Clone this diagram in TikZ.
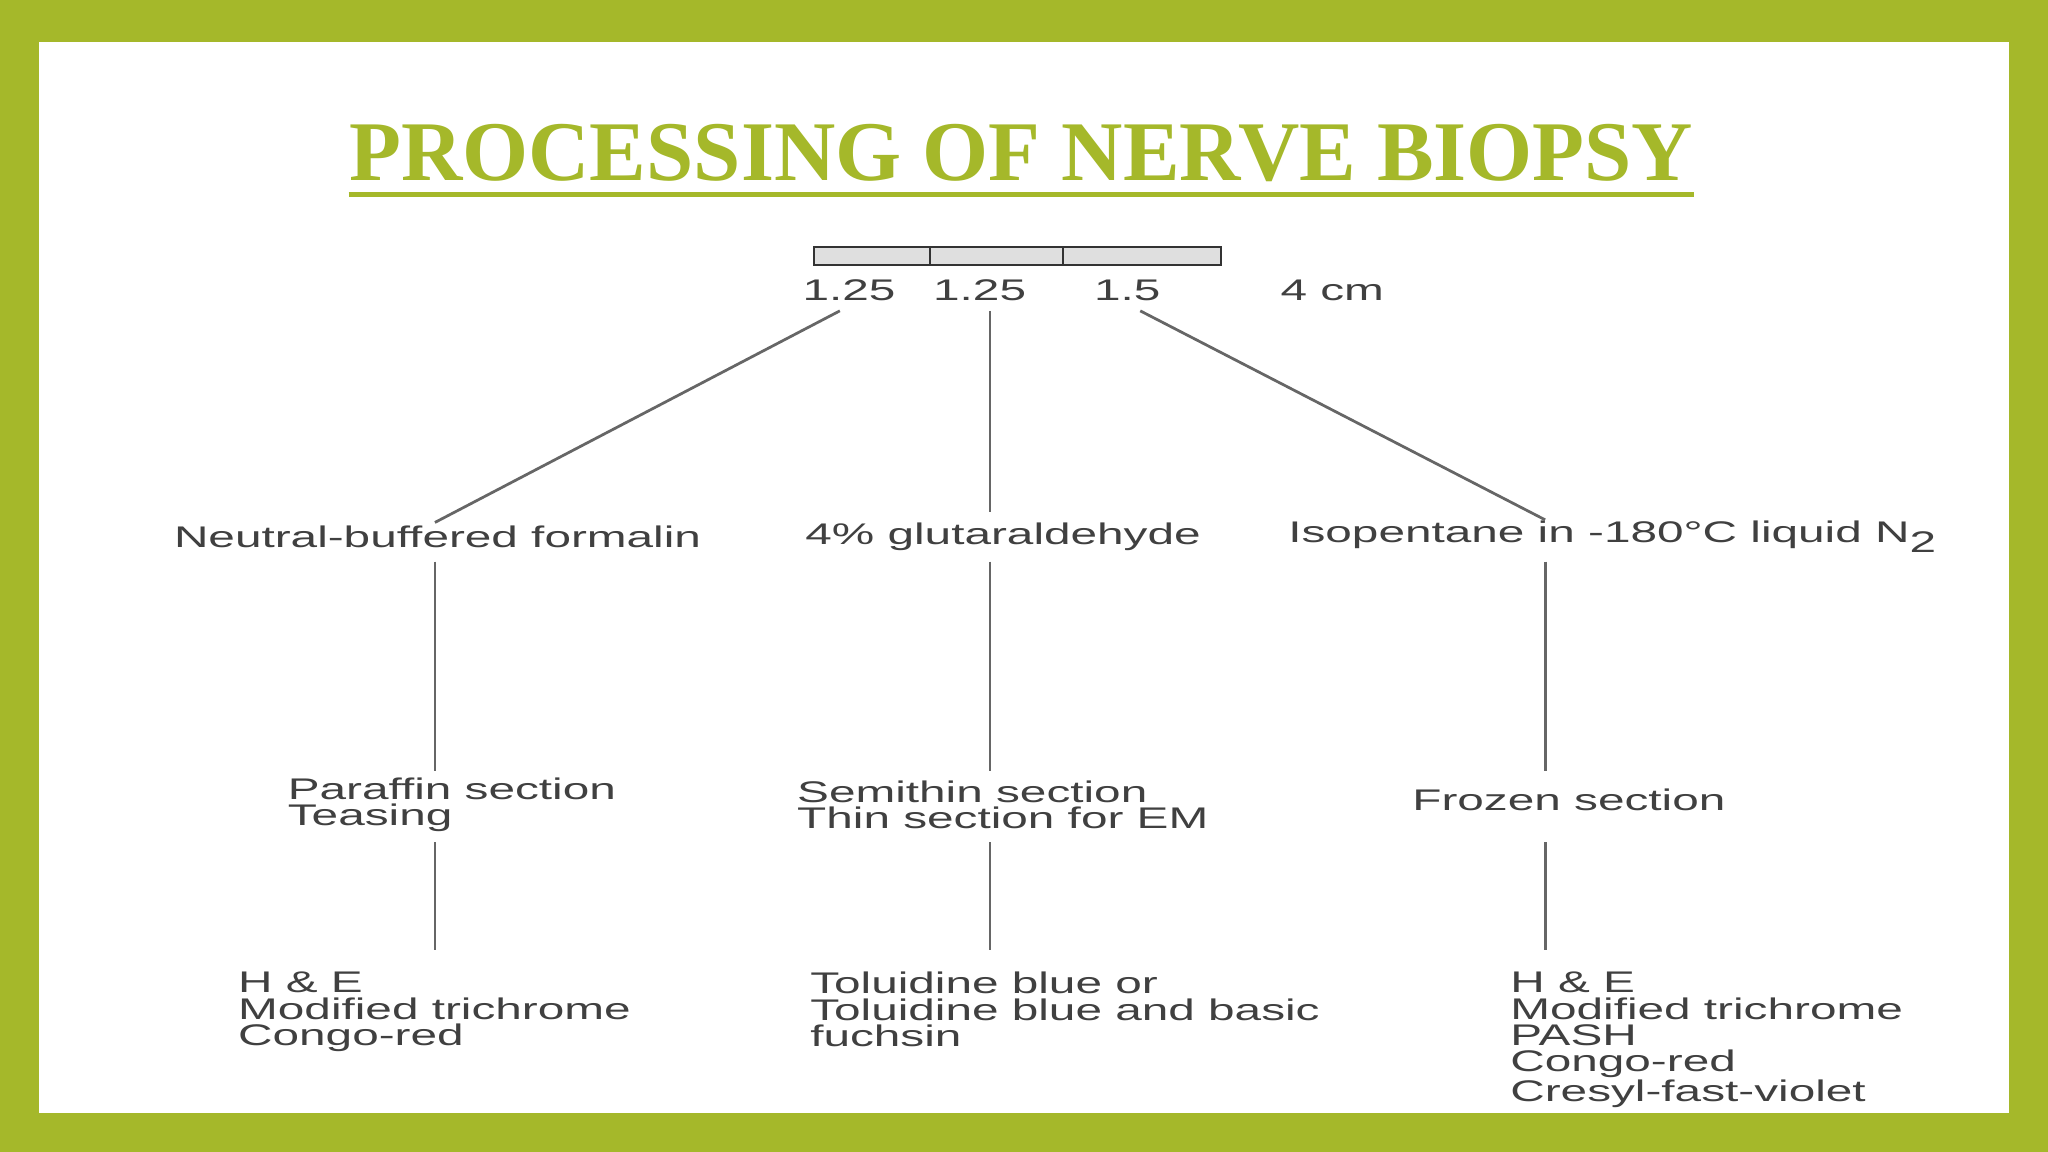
\documentclass[tikz,border=0pt]{standalone}
\usepackage{fontspec}
\setmainfont{Liberation Serif}
\newfontfamily\lab[FakeStretch=1.6]{Liberation Sans}
\definecolor{olive}{HTML}{A5B82A}
\definecolor{txt}{HTML}{404040}
\begin{document}
\begin{tikzpicture}[x=0.02cm,y=-0.02cm,
  t/.style={font=\lab\fontsize{13}{11.4}\selectfont,text=txt,inner sep=0pt,align=left},
  ln/.style={draw=gray!80!black,line width=1.2pt}]
\fill[olive] (0,0) rectangle (1568,882);
\fill[white] (30,32) rectangle (1538,852);
\node[font=\bfseries\fontsize{37}{40}\selectfont,text=olive,inner sep=0pt] (title) at (782,117) {PROCESSING OF NERVE BIOPSY};
\draw[olive,line width=2.5pt] (267,149) -- (1297,149);
\draw[fill=gray!25,draw=black!80,line width=1pt] (623,189) rectangle (935,203);
\draw[black!80,line width=1pt] (712,189) -- (712,203) (814,189)--(814,203);
\node[t] (a) at (650,222) {1.25};
\node[t] (b) at (750,222) {1.25};
\node[t] (c) at (863,222) {1.5};
\node[t] (d) at (1020,222) {4 cm};
\coordinate (a0) at (643,238); \coordinate (b0) at (758,238); \coordinate (c0) at (873,238);
\node[t] (n1) at (335,411) {Neutral-buffered formalin};
\node[t] (n2) at (768,411) {4\% glutaraldehyde};
\node[t,anchor=west] (n3) at (986,411) {Isopentane in -180\textdegree C liquid N\raisebox{-0.6ex}{2}};
\coordinate (p1) at (333,400); \coordinate (p2) at (758,392); \coordinate (p3) at (1183,398);
\draw[ln] (a0)--(p1); \draw[ln] (b0)--(p2); \draw[ln] (c0)--(p3);
\node[t,anchor=west] (m1) at (220,616) {Paraffin section\\Teasing};
\node[t,anchor=west] (m2) at (610,616) {Semithin section\\Thin section for EM};
\node[t,anchor=west] (m3) at (1081,612) {Frozen section};
\foreach \x in {333,758,1183}{
 \draw[ln] (\x,430)--(\x,590);
 \draw[ln] (\x,645)--(\x,727);}
\node[t,anchor=north west] (s1) at (182,744) {H \& E\\Modified trichrome\\Congo-red};
\node[t,anchor=north west] (s2) at (620,744) {Toluidine blue or\\Toluidine blue and basic\\fuchsin};
\node[t,anchor=north west] (s3) at (1156,744) {H \& E\\Modified trichrome\\PASH\\Congo-red\\Cresyl-fast-violet};
\end{tikzpicture}
\end{document}
